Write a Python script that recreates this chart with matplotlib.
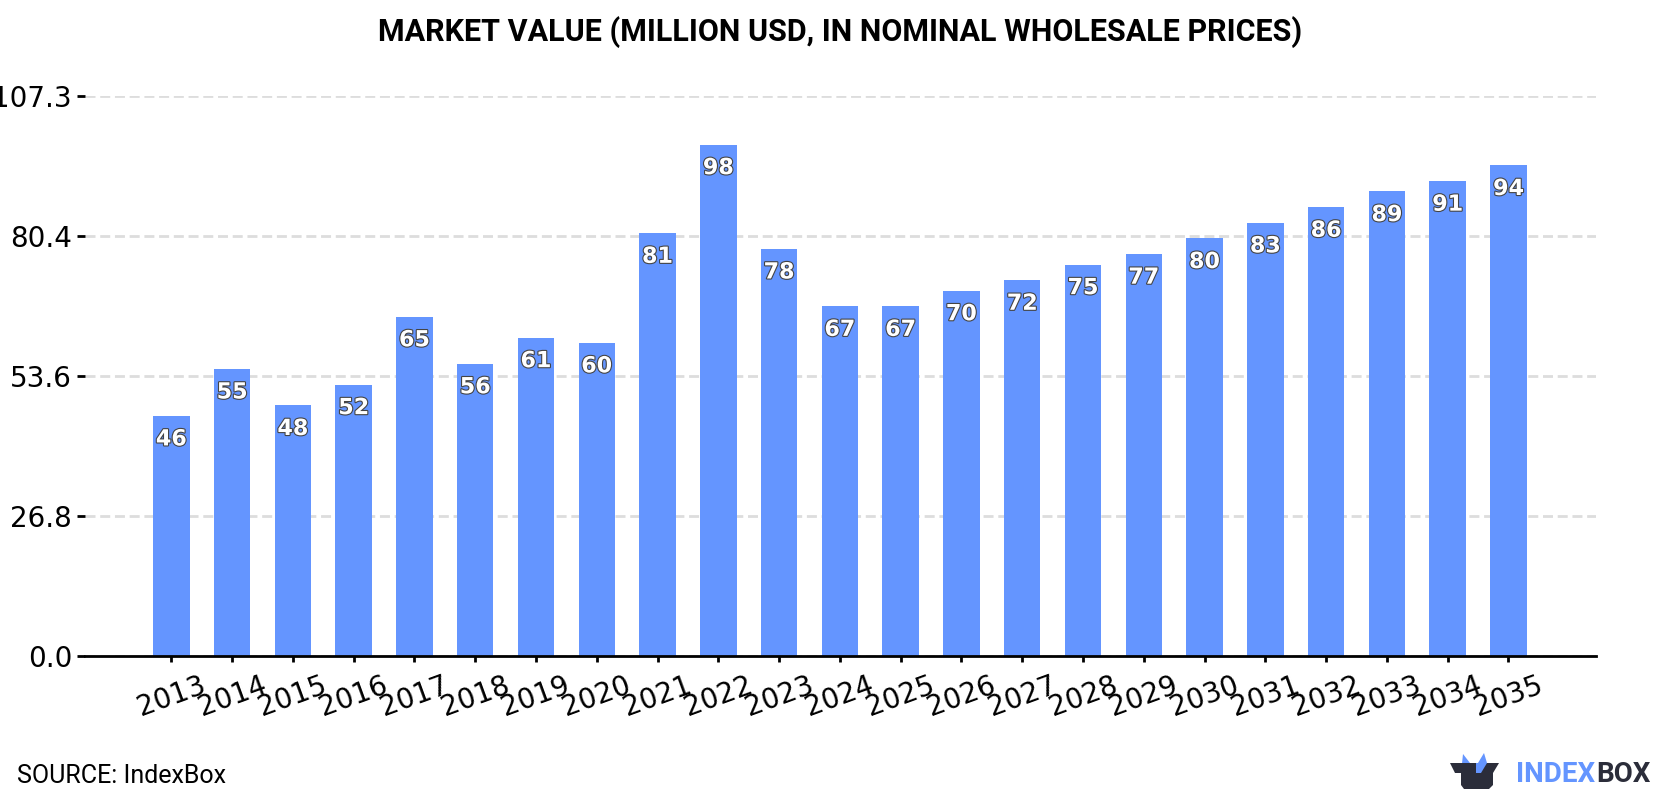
import matplotlib
matplotlib.use('Agg')
import matplotlib.pyplot as plt
import matplotlib.patheffects as pe
from matplotlib.patches import Polygon

years = list(range(2013, 2036))
values = [46, 55, 48, 52, 65, 56, 61, 60, 81, 98, 78, 67, 67, 70, 72, 75, 77, 80, 83, 86, 89, 91, 94]
yticks = [0.0, 26.8, 53.6, 80.4, 107.3]

BLUE = '#6495ff'
DARK = '#2b2d3a'

fig = plt.figure(figsize=(16.8, 8), dpi=100, facecolor='white')
ax = fig.add_axes([85 / 1680, 1 - 655.8 / 800, (1596 - 85) / 1680, 559.8 / 800])

ax.bar(years, values, width=0.6, color=BLUE, zorder=3)
ax.set_xlim(2013 - 1.42, 2013 + 23.44)
ax.set_ylim(0, 107.3)

for year, val in zip(years, values):
    ax.annotate(str(val), (year, val), xytext=(0, -17), textcoords='offset points',
                ha='center', va='center', fontsize=16, fontweight='bold', color='white',
                zorder=4, path_effects=[pe.withStroke(linewidth=1.6, foreground='#444444')])

for side in ['top', 'right', 'left']:
    ax.spines[side].set_visible(False)
ax.spines['bottom'].set_linewidth(2)
ax.spines['bottom'].set_color('black')
ax.spines['bottom'].set_zorder(5)

ax.set_yticks(yticks)
ax.set_yticklabels(['%.1f' % t for t in yticks])
ax.set_xticks(years)
ax.set_xticklabels(years, rotation=20, ha='center')
ax.tick_params(axis='x', labelsize=20, width=2, length=4.5, pad=6.5)
ax.tick_params(axis='y', labelsize=20, width=2, length=5.8, pad=3.5)
ax.yaxis.grid(True, color='#dddddd', linestyle=(0, (3.6, 1.7)), linewidth=2, zorder=1)
ax.set_axisbelow(True)

fig.text(0.5, 1 - 32 / 800, 'MARKET VALUE (MILLION USD, IN NOMINAL WHOLESALE PRICES)',
         ha='center', va='center', fontsize=22, fontweight='bold', family='Roboto', color='black')
fig.text(17 / 1680, 1 - 776 / 800, 'SOURCE: IndexBox', ha='left', va='center',
         fontsize=18, family='Roboto', color='black')

# logo, drawn on a full-figure overlay in pixel units
logo = fig.add_axes([0, 0, 1, 1], facecolor='none')
logo.set_xlim(0, 1680)
logo.set_ylim(800, 0)
logo.axis('off')
logo.add_patch(Polygon([(1461, 773), (1463, 754), (1470, 763), (1478, 763), (1484, 753),
                        (1487, 763), (1487, 773)], closed=True, fc=BLUE, ec='none'))
logo.add_patch(Polygon([(1450, 763), (1476, 763), (1476, 773), (1481, 773), (1487, 763), (1499, 763),
                        (1493, 773), (1493, 785), (1489, 789), (1464, 789), (1461, 785), (1461, 773),
                        (1455, 773)], closed=True, fc=DARK, ec='none'))
t1 = logo.text(1516, 774, 'INDEX', ha='left', va='center', fontsize=20, fontweight='bold',
               family='Roboto', color=BLUE)
fig.canvas.draw()
bb = t1.get_window_extent()
logo.text(bb.x1 + 1, 774, 'BOX', ha='left', va='center', fontsize=20, fontweight='bold',
          family='Roboto', color=DARK)

fig.savefig('out.png', dpi=100, facecolor='white')
